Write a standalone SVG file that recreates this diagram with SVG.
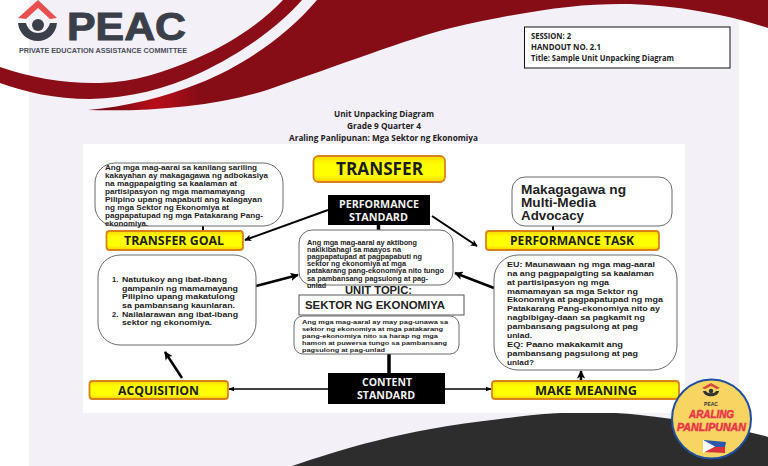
<svg xmlns="http://www.w3.org/2000/svg" width="768" height="466" viewBox="0 0 768 466">
<style>
.b{font-family:"Liberation Sans",Arial,sans-serif;font-weight:700;fill:#222}
.s8{font-size:7.500px}.s7{font-size:6.300px}.s6{font-size:6.200px}
.t{font-family:"Open Sans","Liberation Sans",sans-serif;font-weight:700;fill:#1c1c1c;text-anchor:middle}
.w{font-family:"Open Sans","Liberation Sans",sans-serif;font-weight:700;fill:#f2f2f2;font-size:10px;text-anchor:middle}
.h{font-family:"Open Sans","Liberation Sans",sans-serif;font-weight:700;fill:#222;font-size:8.600px}
.box{fill:#fff;stroke:#6b6b6b;stroke-width:1}
.y{fill:url(#yg);stroke:#d9821a;stroke-width:1.800}
.k{fill:#000}
.c{stroke:#000;fill:none}
</style>
<defs>
<linearGradient id="yg" x1="0" y1="0" x2="0" y2="1"><stop offset="0" stop-color="#ffd800"/><stop offset=".3" stop-color="#ffff00"/><stop offset=".75" stop-color="#ffff00"/><stop offset="1" stop-color="#ffd000"/></linearGradient>
<linearGradient id="rg" gradientUnits="userSpaceOnUse" x1="110" y1="110" x2="260" y2="90"><stop offset="0" stop-color="#7a0a12"/><stop offset=".3" stop-color="#b80e1a"/><stop offset=".6" stop-color="#860c16"/><stop offset="1" stop-color="#860c16"/></linearGradient>
<marker id="a" viewBox="0 0 10 10" refX="9" refY="5" markerWidth="3.400" markerHeight="3.400" orient="auto"><path d="M0,0 L10,5 L0,10 L2.500,5 Z" fill="#000"/></marker>
<marker id="a2" viewBox="0 0 10 10" refX="9" refY="5" markerWidth="4" markerHeight="4" orient="auto"><path d="M0,1 L10,5 L0,9 Z" fill="#000"/></marker>
</defs>
<rect width="768" height="466" fill="#fff"/>
<rect x="29" width="710" height="466" fill="#f4f0f7"/>
<g id="decor">
<path d="M0,67 C30,78 70,84 100,83 C135,82 165,72 195,59 C230,44 260,24 283,0 L302,0 C280,25 245,52 200,73 C165,89 130,98 90,99 C55,99 25,92 0,83 Z" fill="#8a0d17"/>
<path d="M88,110 C125,107 165,97 200,83 C240,67 285,38 317,0 L768,0 L768,28 C725,14 680,6 630,4 C580,3 530,10 451,28 C410,38 340,65 267,90 C215,106 150,112 88,110 Z" fill="url(#rg)"/>
<path d="M292,466 C340,450 400,430 500,419 C560,411 600,411 640,415 C680,420 730,426 768,437 L768,466 Z" fill="#2d2d2d"/>
<rect x="83" y="144" width="602" height="269" fill="#fff"/>
</g>
<g id="logo">
<path d="M18,18 L38,0 L57,18 L50,19 L38,8 L26,19 Z" fill="#ea4f4f"/>
<circle cx="38" cy="25" r="6" fill="#3a3f4a"/>
<path d="M18,23 L26,23 C28,30 33,33 38,33 C43,33 48,30 50,23 L57,23 C56,34 47,41 38,41 C28,41 19,34 18,23 Z" fill="#3a3f4a"/>
<text x="67" y="39.500" font-family="Liberation Sans,sans-serif" font-weight="700" font-size="38" fill="#3a3f4a" stroke="#3a3f4a" stroke-width="1" textLength="119" lengthAdjust="spacingAndGlyphs">PEAC</text>
<text x="19" y="52.500" font-family="Liberation Sans,sans-serif" font-weight="700" font-size="7" fill="#4a4f5a" textLength="168" lengthAdjust="spacingAndGlyphs">PRIVATE EDUCATION ASSISTANCE COMMITTEE</text>
</g>
<g id="session">
<rect x="524.500" y="27" width="205.500" height="41" fill="#fff" stroke="#111" stroke-width="1"/>
<text class="h" x="531" y="39" textLength="40" lengthAdjust="spacingAndGlyphs">SESSION: 2</text>
<text class="h" x="531" y="50" textLength="70" lengthAdjust="spacingAndGlyphs">HANDOUT NO. 2.1</text>
<text class="h" x="531" y="61" textLength="143" lengthAdjust="spacingAndGlyphs">Title: Sample Unit Unpacking Diagram</text>
</g>
<g id="title">
<text class="h" x="334" y="117" textLength="100" lengthAdjust="spacingAndGlyphs">Unit Unpacking Diagram</text>
<text class="h" x="347" y="129" textLength="74" lengthAdjust="spacingAndGlyphs">Grade 9 Quarter 4</text>
<text class="h" x="289" y="141" textLength="189" lengthAdjust="spacingAndGlyphs">Araling Panlipunan: Mga Sektor ng Ekonomiya</text>
</g>
<g id="connectors">
<path class="c" stroke-width="2" d="M203,226V231"/>
<path class="c" stroke-width="2" d="M553,226V231"/>
<path class="c" stroke-width="3.500" d="M378.500,225V230"/>
<path class="c" stroke-width="3.500" d="M389,354V373"/>
<path class="c" stroke-width="2" marker-end="url(#a)" d="M328,210L245,240"/>
<path class="c" stroke-width="2" marker-end="url(#a)" d="M432,216L477,246"/>
<path class="c" stroke-width="2.500" marker-end="url(#a)" d="M256,286L298,275"/>
<path class="c" stroke-width="2.500" marker-end="url(#a)" d="M494,288L455,273"/>
<path class="c" stroke-width="2.500" marker-end="url(#a)" d="M182,378L165,352"/>
<path class="c" stroke-width="1.500" marker-end="url(#a2)" d="M328,389H229"/>
<path class="c" stroke-width="1.500" marker-end="url(#a2)" d="M445,389H491"/>
<path class="c" stroke-width="2.500" marker-end="url(#a)" d="M581,380V371"/>
</g>
<g id="transfer">
<rect class="y" x="313.500" y="156" width="131.500" height="26" rx="5"/>
<text class="t" x="379.500" y="175" font-size="18" textLength="87" lengthAdjust="spacingAndGlyphs">TRANSFER</text>
</g>
<g id="performance-standard">
<rect class="k" x="328" y="195" width="102" height="30"/>
<text class="w" x="379" y="208" textLength="80" lengthAdjust="spacingAndGlyphs">PERFORMANCE</text>
<text class="w" x="378.500" y="221" textLength="59" lengthAdjust="spacingAndGlyphs">STANDARD</text>
</g>
<g id="transfer-goal-text">
<rect class="box" x="95" y="163" width="188" height="63" rx="20"/>
<text class="b s8" x="105" y="170" textLength="152" lengthAdjust="spacingAndGlyphs">Ang mga mag-aaral  sa kanilang sariling</text>
<text class="b s8" x="105" y="178" textLength="163" lengthAdjust="spacingAndGlyphs">kakayahan ay makagagawa ng adbokasiya</text>
<text class="b s8" x="105" y="186" textLength="132" lengthAdjust="spacingAndGlyphs">na  magpapaigting  sa kaalaman at</text>
<text class="b s8" x="105" y="194" textLength="140" lengthAdjust="spacingAndGlyphs">partisipasyon ng mga mamamayang</text>
<text class="b s8" x="105" y="202" textLength="157" lengthAdjust="spacingAndGlyphs">Pilipino  upang  mapabuti ang  kalagayan</text>
<text class="b s8" x="105" y="210" textLength="124" lengthAdjust="spacingAndGlyphs">ng mga Sektor ng Ekonomiya at</text>
<text class="b s8" x="105" y="218" textLength="158" lengthAdjust="spacingAndGlyphs">pagpapatupad ng mga Patakarang Pang-</text>
<text class="b s8" x="105" y="226" textLength="43" lengthAdjust="spacingAndGlyphs">ekonomiya.</text>
</g>
<g id="transfer-goal">
<rect class="y" x="106.500" y="231" width="136.500" height="19" rx="3"/>
<text class="t" x="174" y="244.500" font-size="12" textLength="100" lengthAdjust="spacingAndGlyphs">TRANSFER GOAL</text>
</g>
<g id="task-text">
<rect class="box" x="512" y="177" width="160" height="49" rx="13"/>
<text class="b" font-size="13" x="521" y="193.500" textLength="105" lengthAdjust="spacingAndGlyphs">Makagagawa ng</text>
<text class="b" font-size="13" x="521" y="206.500" textLength="75" lengthAdjust="spacingAndGlyphs">Multi-Media</text>
<text class="b" font-size="13" x="521" y="220" textLength="63" lengthAdjust="spacingAndGlyphs">Advocacy</text>
</g>
<g id="performance-task">
<rect class="y" x="486" y="231" width="173" height="19" rx="3"/>
<text class="t" x="572" y="244.500" font-size="11.500" textLength="124" lengthAdjust="spacingAndGlyphs">PERFORMANCE TASK</text>
</g>
<g id="ps-text">
<rect class="box" x="299" y="230" width="154" height="55" rx="13"/>
<text class="b s7" x="307" y="244.500" textLength="110" lengthAdjust="spacingAndGlyphs">Ang mga mag-aaral ay aktibong</text>
<text class="b s7" x="307" y="251.700" textLength="94" lengthAdjust="spacingAndGlyphs">nakikibahagi sa maayos na</text>
<text class="b s7" x="307" y="258.900" textLength="115" lengthAdjust="spacingAndGlyphs">pagpapatupad at pagpapabuti ng</text>
<text class="b s7" x="307" y="266.100" textLength="99" lengthAdjust="spacingAndGlyphs">sektor ng ekonomiya at mga</text>
<text class="b s7" x="307" y="273.300" textLength="137" lengthAdjust="spacingAndGlyphs">patakarang pang-ekonomiya nito tungo</text>
<text class="b s7" x="307" y="280.500" textLength="121" lengthAdjust="spacingAndGlyphs">sa pambansang pagsulong at pag-</text>
<text class="b s7" x="307" y="287.500" textLength="19" lengthAdjust="spacingAndGlyphs">unlad</text>
</g>
<g id="unit-topic">
<rect x="299" y="295" width="165" height="20" fill="#fff" stroke="#555" stroke-width="1"/>
<text class="b" x="345" y="294" font-size="10.500" textLength="67" lengthAdjust="spacingAndGlyphs">UNIT TOPIC:</text>
<text class="b" x="305" y="309" font-size="11" textLength="140" lengthAdjust="spacingAndGlyphs">SEKTOR NG EKONOMIYA</text>
</g>
<g id="cs-text">
<rect class="box" x="294" y="316" width="165" height="38" rx="9"/>
<text class="b s6" x="302" y="323.500" textLength="146" lengthAdjust="spacingAndGlyphs">Ang mga mag-aaral ay may pag-unawa sa</text>
<text class="b s6" x="302" y="330.500" textLength="141" lengthAdjust="spacingAndGlyphs">sektor ng ekonomiya at mga patakarang</text>
<text class="b s6" x="302" y="337.500" textLength="136" lengthAdjust="spacingAndGlyphs">pang-ekonomiya nito sa harap ng mga</text>
<text class="b s6" x="302" y="344.500" textLength="145" lengthAdjust="spacingAndGlyphs">hamon at puwersa tungo sa pambansang</text>
<text class="b s6" x="302" y="351.500" textLength="83" lengthAdjust="spacingAndGlyphs">pagsulong at pag-unlad</text>
</g>
<g id="content-standard">
<rect class="k" x="328" y="373" width="117" height="31"/>
<text class="w" x="387" y="386" textLength="50" lengthAdjust="spacingAndGlyphs">CONTENT</text>
<text class="w" x="386" y="399" textLength="58" lengthAdjust="spacingAndGlyphs">STANDARD</text>
</g>
<g id="acq-text">
<rect class="box" x="98" y="255" width="158" height="90" rx="22"/>
<text class="b s8" x="112" y="282">1.</text>
<text class="b s8" x="122" y="282" textLength="105" lengthAdjust="spacingAndGlyphs">Natutukoy  ang ibat-ibang</text>
<text class="b s8" x="122" y="291" textLength="116" lengthAdjust="spacingAndGlyphs">gampanin  ng  mamamayang</text>
<text class="b s8" x="122" y="299" textLength="113" lengthAdjust="spacingAndGlyphs">Pilipino  upang  makatulong</text>
<text class="b s8" x="122" y="308" textLength="113" lengthAdjust="spacingAndGlyphs">sa pambansang  kaunlaran.</text>
<text class="b s8" x="112" y="317">2.</text>
<text class="b s8" x="122" y="317" textLength="116" lengthAdjust="spacingAndGlyphs">Nailalarawan  ang ibat-ibang</text>
<text class="b s8" x="122" y="325" textLength="90" lengthAdjust="spacingAndGlyphs">sektor  ng ekonomiya.</text>
</g>
<g id="acquisition">
<rect class="y" x="89.500" y="381" width="138.500" height="18" rx="3"/>
<text class="t" x="158.500" y="394.500" font-size="12" textLength="81" lengthAdjust="spacingAndGlyphs">ACQUISITION</text>
</g>
<g id="mm-text">
<rect class="box" x="494" y="255" width="183" height="115" rx="24"/>
<text class="b s8" x="507" y="267" textLength="148" lengthAdjust="spacingAndGlyphs">EU: Maunawaan ng mga mag-aaral</text>
<text class="b s8" x="507" y="276" textLength="147" lengthAdjust="spacingAndGlyphs">na ang pagpapaigting  sa kaalaman</text>
<text class="b s8" x="507" y="285" textLength="102" lengthAdjust="spacingAndGlyphs">at partisipasyon  ng mga</text>
<text class="b s8" x="507" y="294" textLength="131" lengthAdjust="spacingAndGlyphs">mamamayan  sa mga Sektor ng</text>
<text class="b s8" x="507" y="302" textLength="156" lengthAdjust="spacingAndGlyphs">Ekonomiya  at pagpapatupad  ng mga</text>
<text class="b s8" x="507" y="311" textLength="153" lengthAdjust="spacingAndGlyphs">Patakarang  Pang-ekonomiya  nito ay</text>
<text class="b s8" x="507" y="320" textLength="138" lengthAdjust="spacingAndGlyphs">nagbibigay-daan  sa pagkamit  ng</text>
<text class="b s8" x="507" y="329" textLength="131" lengthAdjust="spacingAndGlyphs">pambansang  pagsulong  at pag</text>
<text class="b s8" x="507" y="338" textLength="25" lengthAdjust="spacingAndGlyphs">unlad.</text>
<text class="b s8" x="507" y="347" textLength="116" lengthAdjust="spacingAndGlyphs">EQ:  Paano makakamit  ang</text>
<text class="b s8" x="507" y="356" textLength="131" lengthAdjust="spacingAndGlyphs">pambansang  pagsulong  at pag</text>
<text class="b s8" x="507" y="365" textLength="27" lengthAdjust="spacingAndGlyphs">unlad?</text>
</g>
<g id="make-meaning">
<rect class="y" x="492" y="381" width="187" height="18" rx="3"/>
<text class="t" x="586" y="394.500" font-size="12" textLength="102" lengthAdjust="spacingAndGlyphs">MAKE MEANING</text>
</g>
<g id="badge">
<circle cx="711.500" cy="419" r="39.500" fill="#f8d563" stroke="#1f4f9e" stroke-width="2"/>
<path d="M702,388 L711,383 L720,388 L717,389 L711,386 L705,389 Z" fill="#d9483b"/>
<circle cx="711" cy="391" r="2.200" fill="#333"/>
<path d="M703,391 L706,391 C707,394 715,394 716,391 L719,391 C718,398 704,398 703,391 Z" fill="#333"/>
<text x="711" y="406" font-family="Liberation Sans,sans-serif" font-weight="700" font-size="5" fill="#333" text-anchor="middle">PEAC</text>
<text x="689" y="417.500" font-family="Liberation Sans,sans-serif" font-weight="700" font-style="italic" font-size="11" fill="#e8344a" stroke="#e8344a" stroke-width=".5" textLength="45" lengthAdjust="spacingAndGlyphs">ARALING</text>
<text x="677" y="430.500" font-family="Liberation Sans,sans-serif" font-weight="700" font-style="italic" font-size="11" fill="#e8344a" stroke="#e8344a" stroke-width=".5" textLength="69" lengthAdjust="spacingAndGlyphs">PANLIPUNAN</text>
<path d="M704,440 L726,442 L725,447 L704,447 Z" fill="#2b58a8"/>
<path d="M704,447 L725,447 L725,453 L704,452 Z" fill="#d8323a"/>
<path d="M703,440 L715,446.500 L703,453 Z" fill="#fff"/>
</g>
</svg>
